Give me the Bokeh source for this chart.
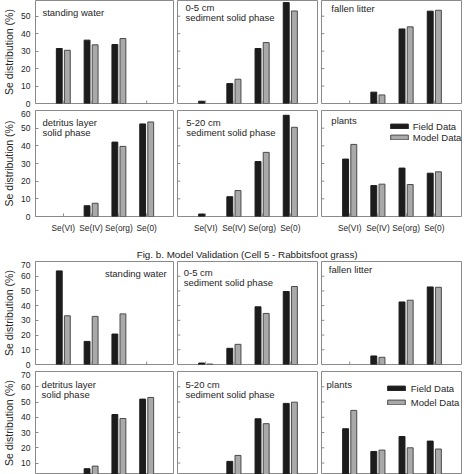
import numpy as np
from bokeh.plotting import figure
from bokeh.layouts import column, row
from bokeh.models import Range1d, FixedTicker, Label, Legend, LegendItem
from bokeh.embed import file_html
from bokeh.resources import INLINE

# ---------------- data ----------------
categories = ["Se(VI)", "Se(IV)", "Se(org)", "Se(0)"]
series_names = ["Field Data", "Model Data"]
fig_b_title = "Fig. b.  Model Validation (Cell 5 - Rabbitsfoot grass)"
y_title = "Se distribution (%)"

# Fig. a (upper part, partly cropped)
a_standing_field = [31.5, 36.3, 33.8, 0]
a_standing_model = [30.5, 33.6, 37.2, 0]
a_sed05_field = [1.3, 11.4, 31.5, 57.8]
a_sed05_model = [0, 13.9, 34.9, 53.0]
a_litter_field = [0, 6.5, 42.7, 52.9]
a_litter_model = [0, 4.9, 43.9, 53.4]
a_detritus_field = [0, 6.1, 42.1, 52.4]
a_detritus_model = [0, 7.5, 39.7, 53.5]
a_sed520_field = [1.4, 11.2, 31.1, 57.3]
a_sed520_model = [0, 14.7, 36.3, 50.5]
a_plants_field = [32.5, 17.5, 27.4, 24.5]
a_plants_model = [40.8, 18.3, 18.1, 25.3]

# Fig. b (model validation, cell 5)
b_standing_field = [63.6, 15.7, 20.7, 0]
b_standing_model = [33.1, 32.7, 34.4, 0]
b_sed05_field = [1.0, 11.0, 39.2, 49.6]
b_sed05_model = [0.3, 13.7, 34.7, 53.0]
b_litter_field = [0, 5.8, 42.5, 52.7]
b_litter_model = [0, 4.9, 43.7, 52.5]
b_detritus_field = [0, 6.3, 41.8, 51.9]
b_detritus_model = [0, 8.0, 39.2, 53.0]
b_sed520_field = [1.0, 11.1, 39.0, 49.1]
b_sed520_model = [0, 15.0, 35.8, 49.9]
b_plants_field = [32.5, 17.6, 27.4, 24.4]
b_plants_model = [44.5, 18.5, 20.0, 19.2]

# ---------------- style ----------------
FONT = "Liberation Sans"
TXT = "#262626"
FIELD = "#1c1c1c"
MODEL_FILL = "#a9a9a9"
MODEL_LINE = "#4a4a4a"
FRAME = "#8a8a8a"
FRAME_W = 141
TICK_LEN = 0.1  # x-units (about 3 px)

xpos = np.arange(1, len(categories) + 1)


def nonzero(vals):
    v = np.asarray(vals, dtype=float)
    m = v > 0
    return xpos[m], v[m]


def panel(field, model, yr, yticks, frame_h, first_col, show_xlabels, xaxis_visible,
          bottom_border, labels, legend=None):
    left = 33 if first_col else 3
    p = figure(width=left + FRAME_W, height=frame_h + bottom_border,
               x_range=Range1d(0, 5), y_range=Range1d(*yr),
               toolbar_location=None, output_backend="svg",
               min_border_left=left, min_border_right=0,
               min_border_top=0, min_border_bottom=bottom_border)
    p.grid.visible = False
    p.outline_line_color = FRAME
    p.outline_line_width = 1
    p.background_fill_color = "white"
    p.border_fill_color = "white"

    fx, fv = nonzero(field)
    mx, mv = nonzero(model)
    rf = p.vbar(x=fx - 0.145, top=fv, width=0.21,
                fill_color=FIELD, line_color=FIELD, line_width=1)
    rm = p.vbar(x=mx + 0.145, top=mv, width=0.21,
                fill_color=MODEL_FILL, line_color=MODEL_LINE, line_width=1)

    # y axis (labels only in first column; small inner ticks elsewhere)
    ya = p.yaxis[0]
    if first_col:
        ya.ticker = FixedTicker(ticks=yticks)
        ya.minor_tick_line_color = None
        ya.axis_line_color = None
        ya.major_tick_line_color = FRAME
        ya.major_tick_in = 3
        ya.major_tick_out = 0
        ya.major_label_text_font_size = "8.5px"
        ya.major_label_text_font = FONT
        ya.major_label_text_color = TXT
        ya.major_label_standoff = 5
        ya.axis_label = y_title
        ya.axis_label_text_font = FONT
        ya.axis_label_text_font_size = "10.5px"
        ya.axis_label_text_font_style = "normal"
        ya.axis_label_text_color = TXT
        ya.axis_label_standoff = 3
    else:
        ya.visible = False
        yt = np.asarray(yticks, dtype=float)
        p.segment(x0=np.zeros_like(yt), x1=np.full_like(yt, TICK_LEN), y0=yt, y1=yt,
                  line_color=FRAME, line_width=1)

    # x axis
    xa = p.xaxis[0]
    if show_xlabels:
        xa.ticker = FixedTicker(ticks=list(xpos))
        xa.major_label_overrides = {int(i): c for i, c in zip(xpos, categories)}
        xa.minor_tick_line_color = None
        xa.axis_line_color = None
        xa.major_tick_line_color = FRAME
        xa.major_tick_in = 3
        xa.major_tick_out = 0
        xa.major_label_text_font_size = "8.3px"
        xa.major_label_text_font = FONT
        xa.major_label_text_color = TXT
        xa.major_label_standoff = 6
    else:
        xa.visible = False
        if xaxis_visible:
            y0 = yr[0]
            ylen = (yr[1] - yr[0]) * 3.0 / frame_h
            p.segment(x0=xpos, x1=xpos, y0=np.full(len(xpos), y0),
                      y1=np.full(len(xpos), y0 + ylen), line_color=FRAME, line_width=1)

    for (lx, ly, txt, align) in labels:
        p.add_layout(Label(x=lx, y=ly, text=txt, text_font=FONT,
                           text_font_size="9.5px", text_color=TXT,
                           text_align=align, text_baseline="middle"))

    if legend is not None:
        loc, spacing, standoff = legend
        lg = Legend(items=[LegendItem(label=series_names[0], renderers=[rf]),
                           LegendItem(label=series_names[1], renderers=[rm])],
                    location=loc, orientation="vertical",
                    padding=0, margin=0, spacing=spacing,
                    border_line_color=None, background_fill_alpha=0,
                    glyph_width=22, glyph_height=6, label_height=10,
                    label_standoff=standoff,
                    label_text_font=FONT, label_text_font_size="9.5px",
                    label_text_color=TXT)
        p.add_layout(lg)
    return p


A1 = dict(yr=(0, 59), yticks=[0, 10, 20, 30, 40, 50], frame_h=103,
          show_xlabels=False, xaxis_visible=True, bottom_border=7)
A2 = dict(yr=(0, 60), yticks=[0, 10, 20, 30, 40, 50, 60], frame_h=106,
          show_xlabels=True, xaxis_visible=True, bottom_border=30)
B1 = dict(yr=(0, 70), yticks=[0, 10, 20, 30, 40, 50, 60, 70], frame_h=103,
          show_xlabels=False, xaxis_visible=True, bottom_border=7)
B2 = dict(yr=(2.5, 70), yticks=[10, 20, 30, 40, 50, 60, 70], frame_h=103,
          show_xlabels=False, xaxis_visible=False, bottom_border=0)

rowA1 = row(
    panel(a_standing_field, a_standing_model, first_col=True,
          labels=[(0.25, 52.3, "standing water", "left")], **A1),
    panel(a_sed05_field, a_sed05_model, first_col=False,
          labels=[(0.28, 55.2, "0-5 cm", "left"),
                  (0.28, 49.4, "sediment solid phase", "left")], **A1),
    panel(a_litter_field, a_litter_model, first_col=False,
          labels=[(0.35, 54.6, "fallen litter", "left")], **A1),
)
rowA2 = row(
    panel(a_detritus_field, a_detritus_model, first_col=True,
          labels=[(0.25, 53.4, "detritus layer", "left"),
                  (0.25, 47.4, "solid phase", "left")], **A2),
    panel(a_sed520_field, a_sed520_model, first_col=False,
          labels=[(0.31, 53.4, "5-20 cm", "left"),
                  (0.31, 47.4, "sediment solid phase", "left")], **A2),
    panel(a_plants_field, a_plants_model, first_col=False,
          labels=[(0.35, 54.3, "plants", "left")],
          legend=((66.8, 73.5), 0, 3), **A2),
)

# title strip for Fig. b
tfig = figure(width=462, height=15, x_range=Range1d(0, 462), y_range=Range1d(0, 15),
              toolbar_location=None, output_backend="svg",
              min_border_left=0, min_border_right=0, min_border_top=0, min_border_bottom=0)
tfig.axis.visible = False
tfig.grid.visible = False
tfig.outline_line_color = None
tfig.add_layout(Label(x=248, y=7.5, text=fig_b_title, text_font=FONT,
                      text_font_size="9.8px", text_color="#1a1a1a",
                      text_align="center", text_baseline="middle"))

rowB1 = row(
    panel(b_standing_field, b_standing_model, first_col=True,
          labels=[(4.72, 61.6, "standing water", "right")], **B1),
    panel(b_sed05_field, b_sed05_model, first_col=False,
          labels=[(0.22, 62.7, "0-5 cm", "left"),
                  (0.22, 55.5, "sediment solid phase", "left")], **B1),
    panel(b_litter_field, b_litter_model, first_col=False,
          labels=[(0.26, 64.6, "fallen litter", "left")], **B1),
)
rowB2 = row(
    panel(b_detritus_field, b_detritus_model, first_col=True,
          labels=[(0.22, 61.5, "detritus layer", "left"),
                  (0.22, 54.7, "solid phase", "left")], **B2),
    panel(b_sed520_field, b_sed520_model, first_col=False,
          labels=[(0.28, 61.5, "5-20 cm", "left"),
                  (0.28, 54.7, "sediment solid phase", "left")], **B2),
    panel(b_plants_field, b_plants_model, first_col=False,
          labels=[(0.18, 61.5, "plants", "left")],
          legend=((63.8, 66.5), 3, 4), **B2),
)

layout = column(rowA1, rowA2, tfig, rowB1, rowB2)

open("out.html", "w").write(file_html(layout, INLINE))
